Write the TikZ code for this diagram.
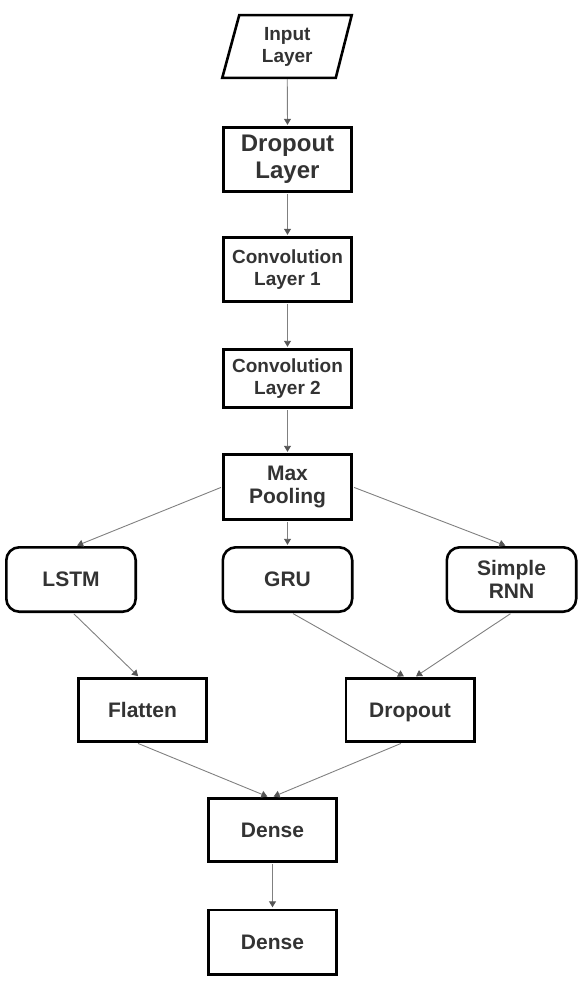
\documentclass[tikz,border=0pt]{standalone}
\usepackage{fontspec}
\setmainfont{Liberation Sans}
\usetikzlibrary{arrows.meta,calc}
\definecolor{txt}{HTML}{333333}
\definecolor{ln}{HTML}{808080}
\definecolor{tipc}{HTML}{555555}
\begin{document}
\begin{tikzpicture}[x=1pt,y=-1pt,
  box/.style={draw=black, line width=2.6pt, minimum width=128.4pt, minimum height=64pt,
    inner sep=0pt, align=center, text=txt, font=\fontsize{21}{23}\selectfont\bfseries},
  smalltxt/.style={font=\fontsize{19}{22}\selectfont\bfseries},
  bigtxt/.style={font=\fontsize{24}{27}\selectfont\bfseries},
  rbox/.style={box, rounded corners=13pt, minimum width=129.4pt, minimum height=64.4pt},
  ghost/.style={inner sep=0pt, align=center, text=txt, minimum width=116pt, minimum height=62.4pt,
    font=\fontsize{19}{22}\selectfont\bfseries},
  arr/.style={draw=ln, line width=0.9pt, shorten >=1.2pt, shorten <=1.2pt,
    -{Triangle[width=7pt,length=6pt,fill=tipc,color=tipc]}}]
\useasboundingbox (0,0) rectangle (582,984);

% Input (parallelogram)
\node[ghost] (in) at (287.25,46.5) {Input\\Layer};
\draw[line width=2.6pt, line join=miter]
  ($(in.north)+(-48,0)$) -- ($(in.north)+(64.5,0)$) --
  ($(in.south)+(48.5,0)$) -- ($(in.south)+(-65,0)$) -- cycle;

\node[box, bigtxt, minimum height=64.4pt] (drop) at (287.5,159.5) {Dropout\\Layer};
\node[box, smalltxt, minimum height=64.4pt] (conv1) at (287.5,269.5) {Convolution\\Layer 1};
\node[box, smalltxt, minimum height=58.4pt] (conv2) at (287.5,378.5) {Convolution\\Layer 2};
\node[box, minimum height=65.4pt] (maxp) at (287.5,487) {Max\\Pooling};

\node[rbox] (lstm) at (71,579.5) {LSTM};
\node[rbox] (gru) at (287.5,579.5) {GRU};
\node[rbox] (rnn) at (511.5,579.5) {Simple\\RNN};

\node[box, minimum height=63.4pt] (flat) at (142.5,710) {Flatten};
\node[box, minimum height=63.4pt, text depth=0pt] (drop2) at (410,710) {Dropout};

\node[box, minimum height=63.4pt] (dense1) at (272.5,830) {Dense};
\node[box, minimum height=64.4pt] (dense2) at (272.5,942) {Dense};

% connectors
\draw[arr] (in.south) -- (drop.north);
\draw[arr] (drop.south) -- (conv1.north);
\draw[arr] (conv1.south) -- (conv2.north);
\draw[arr] (conv2.south) -- (maxp.north);
\draw[arr] (maxp.south) -- (gru.north);
\draw[arr] (maxp.west) -- ([xshift=5pt]lstm.north);
\draw[arr] (maxp.east) -- ([xshift=-5pt]rnn.north);
\draw[arr] ([xshift=2pt]lstm.south) -- ([xshift=-3.5pt]flat.north);
\draw[arr] ([xshift=4.5pt]gru.south) -- ([xshift=-5pt]drop2.north);
\draw[arr] (rnn.south) -- ([xshift=5pt]drop2.north);
\draw[arr] ([xshift=-5.5pt]flat.south) -- ([xshift=-4pt]dense1.north);
\draw[arr] ([xshift=-8pt]drop2.south) -- ([xshift=0pt]dense1.north);
\draw[arr] (dense1.south) -- (dense2.north);
\end{tikzpicture}
\end{document}
